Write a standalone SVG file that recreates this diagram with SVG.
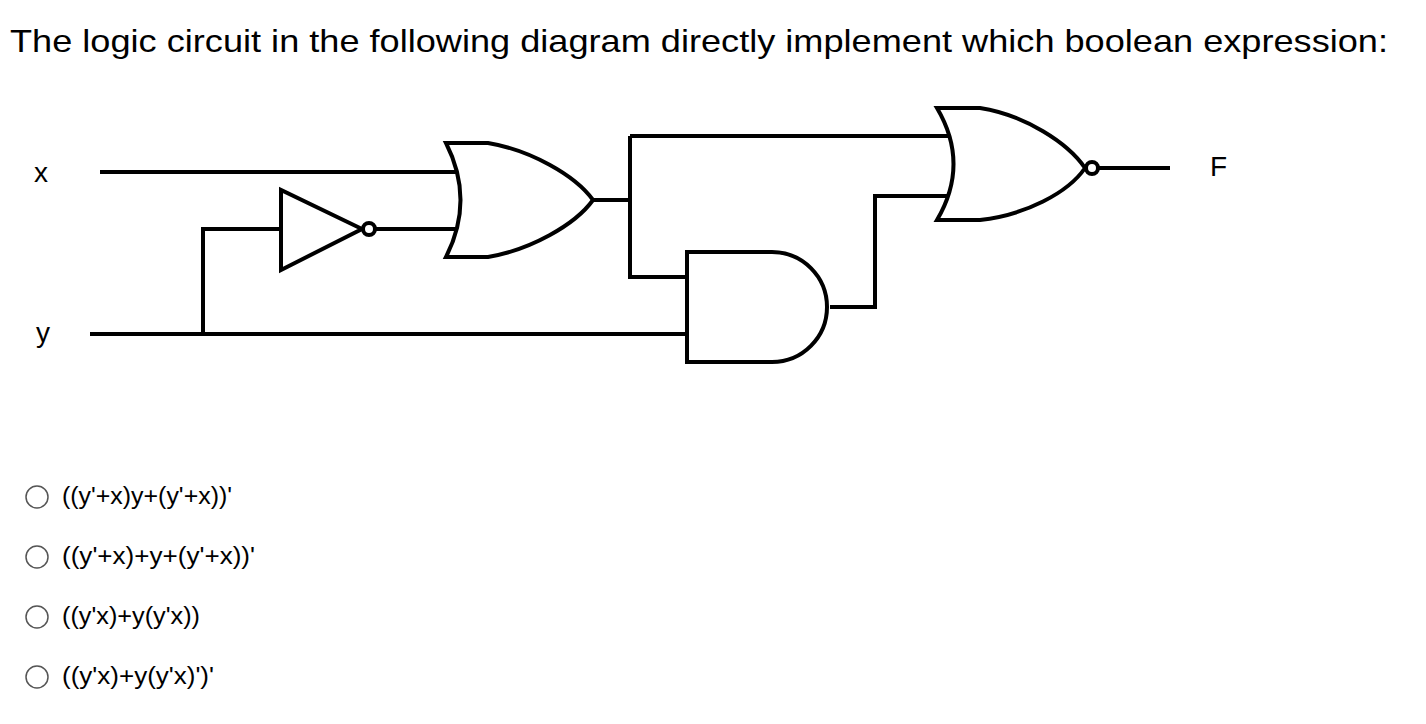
<svg xmlns="http://www.w3.org/2000/svg" width="1426" height="724" viewBox="0 0 1426 724">
<style>
.w{fill:none;stroke:#000;stroke-width:4;stroke-linejoin:miter}
.g{fill:#fff;stroke:#000;stroke-width:4}
text{font-family:"Liberation Sans",Arial,sans-serif;fill:#000}
.opt{font-size:23px}
.r{fill:#fff;stroke:#555;stroke-width:1.5}
</style>
<rect width="1426" height="724" fill="#fff"/>
<text x="10" y="52" font-size="32" textLength="1378" lengthAdjust="spacingAndGlyphs">The logic circuit in the following diagram directly implement which boolean expression:</text>
<text x="34" y="182" font-size="28">x</text>
<text x="36" y="342" font-size="28">y</text>
<text x="1210" y="176" font-size="28">F</text>
<g id="connectors">
<path class="w" d="M100 172H460M363 229H460M90 334H690M203 334V229H282M593 200H630M630 136V277H690M630 136H950M830 307H875V196H950M1099 168H1170"/>
</g>
<g id="inverter">
<polygon class="g" points="281,190 281,270 362,229"/>
<circle class="g" cx="369" cy="229" r="6" stroke-width="3"/>
</g>
<g id="or1">
<path class="g" d="M446 143H488C530 150 575 175 593 200C575 225 530 250 488 257H446Q475 200 446 143Z"/>
</g>
<g id="and1">
<path class="g" d="M687 252H772A55 55 0 0 1 772 362H687Z"/>
</g>
<g id="nor1">
<path class="g" d="M937 108H980C1025 115 1068 143 1085 168C1068 193 1025 215 980 220H937Q970 164 937 108Z"/>
<circle class="g" cx="1092" cy="168" r="6" stroke-width="3"/>
</g>
<g id="options">
<circle class="r" cx="37" cy="497" r="11"/><text class="opt" x="62" y="504" textLength="170" lengthAdjust="spacingAndGlyphs">((y'+x)y+(y'+x))'</text>
<circle class="r" cx="37" cy="557" r="11"/><text class="opt" x="62" y="564" textLength="193" lengthAdjust="spacingAndGlyphs">((y'+x)+y+(y'+x))'</text>
<circle class="r" cx="37" cy="617" r="11"/><text class="opt" x="62" y="624" textLength="138" lengthAdjust="spacingAndGlyphs">((y'x)+y(y'x))</text>
<circle class="r" cx="37" cy="677" r="11"/><text class="opt" x="62" y="684" textLength="152" lengthAdjust="spacingAndGlyphs">((y'x)+y(y'x)')'</text>
</g>
</svg>
